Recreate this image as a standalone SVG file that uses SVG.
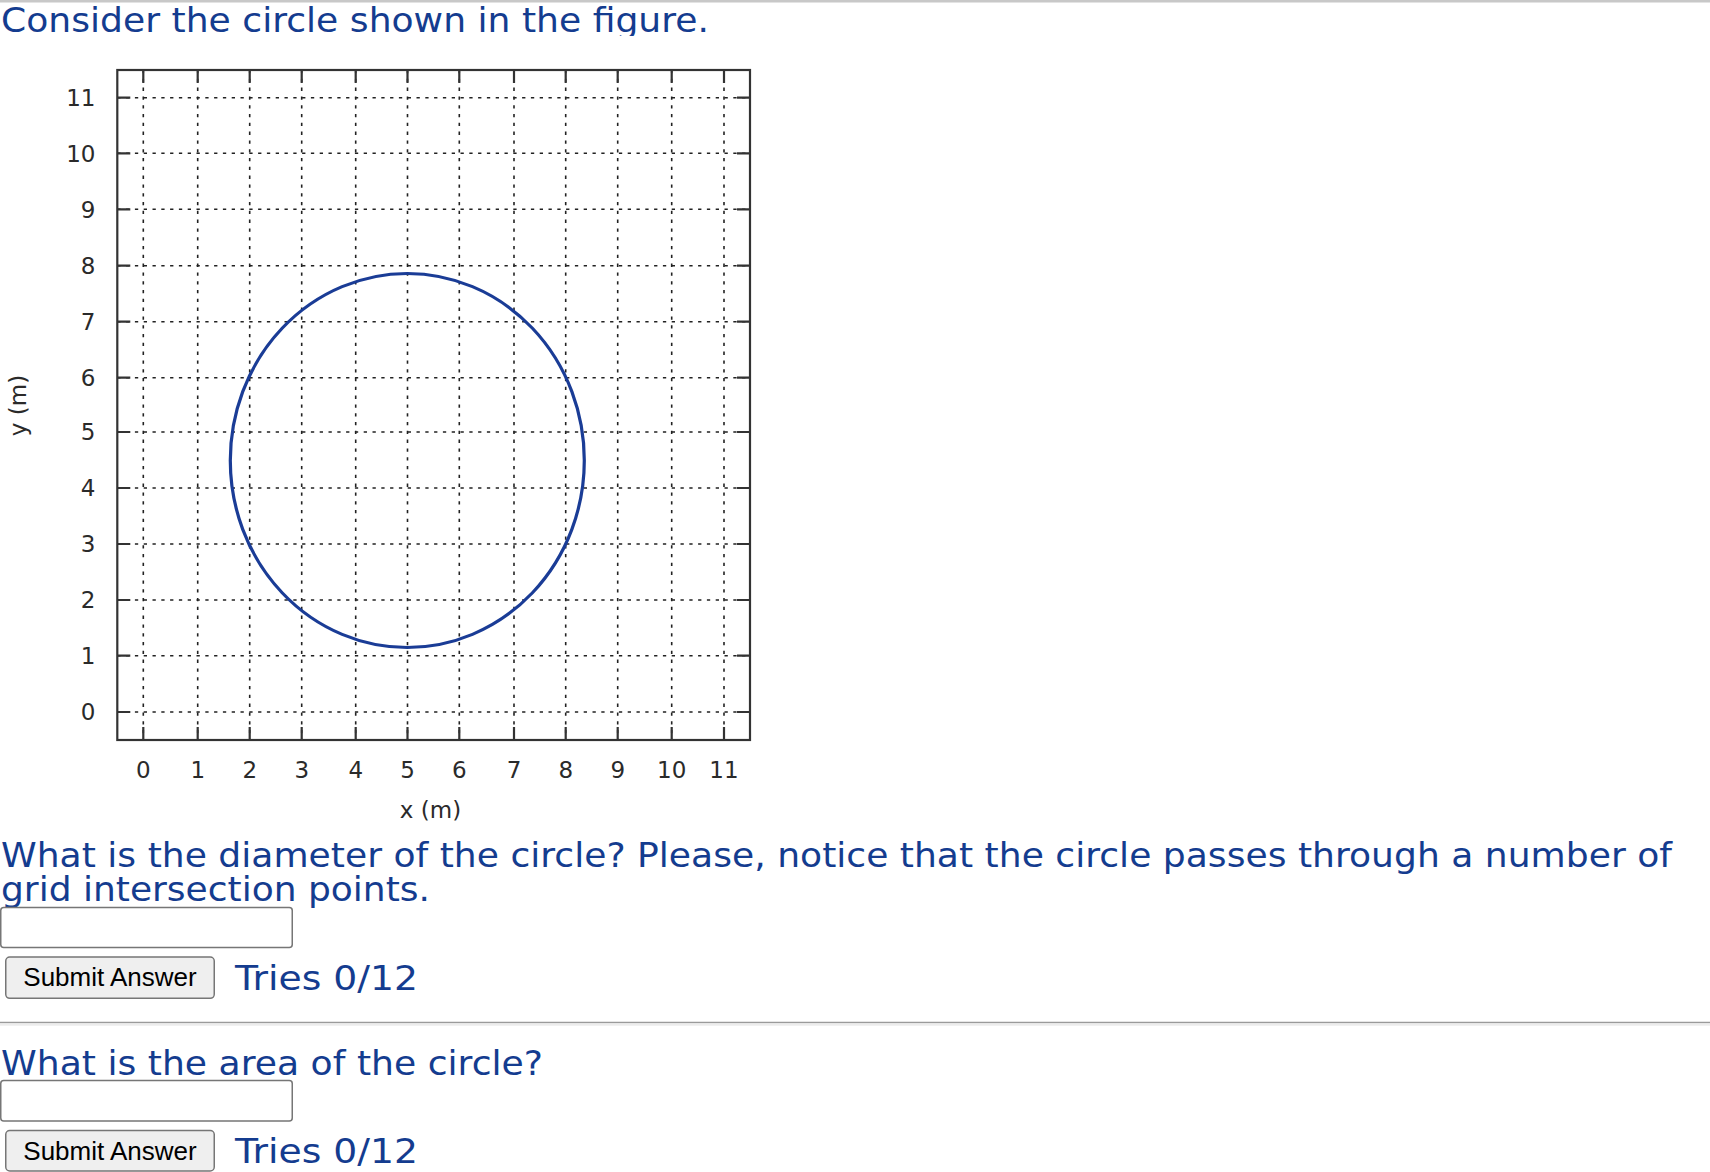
<svg xmlns="http://www.w3.org/2000/svg" width="1710" height="1172" viewBox="0 0 1710 1172">
<style>
.q{font-family:"DejaVu Sans","Verdana",sans-serif;font-size:33.5px;fill:#143c8f}
.tick{font-family:"DejaVu Sans",sans-serif;font-size:23px;fill:#2a2a2a}
.grid{stroke:#222;stroke-width:1.6;stroke-dasharray:3.3 5.5;fill:none}
.tk{stroke:#333;stroke-width:2.2;fill:none}
.btn{fill:#efefef;stroke:#767676;stroke-width:1.5}
.inp{fill:#fff;stroke:#767676;stroke-width:1.5}
.btxt{font-family:"Liberation Sans",Arial,sans-serif;font-size:26px;fill:#000}
</style>
<defs>
<clipPath id="titleclip"><rect x="0" y="0" width="1710" height="36"/></clipPath>
</defs>
<rect x="0" y="0" width="1710" height="2.5" fill="#c8c8c8"/>
<g id="title" clip-path="url(#titleclip)">
<text class="q" x="1" y="32" textLength="708" lengthAdjust="spacingAndGlyphs">Consider the circle shown in the figure.</text>
</g>
<g id="plot">
<g id="gridlines">
<path class="grid" d="M143.3 70V740M197.7 70V740M249.7 70V740M301.7 70V740M355.7 70V740M407.5 70V740M459.3 70V740M514 70V740M565.7 70V740M617.7 70V740M671.7 70V740M724 70V740"/>
<path class="grid" d="M117.3 712H750M117.3 655.7H750M117.3 600H750M117.3 544H750M117.3 488H750M117.3 432H750M117.3 377.7H750M117.3 321.7H750M117.3 265.7H750M117.3 209.3H750M117.3 153.3H750M117.3 97.7H750"/>
</g>
<g id="ticks">
<path class="tk" d="M117.3 712h13M117.3 655.7h13M117.3 600h13M117.3 544h13M117.3 488h13M117.3 432h13M117.3 377.7h13M117.3 321.7h13M117.3 265.7h13M117.3 209.3h13M117.3 153.3h13M117.3 97.7h13"/>
<path class="tk" d="M750 712h-13M750 655.7h-13M750 600h-13M750 544h-13M750 488h-13M750 432h-13M750 377.7h-13M750 321.7h-13M750 265.7h-13M750 209.3h-13M750 153.3h-13M750 97.7h-13"/>
<path class="tk" d="M143.3 70v13M197.7 70v13M249.7 70v13M301.7 70v13M355.7 70v13M407.5 70v13M459.3 70v13M514 70v13M565.7 70v13M617.7 70v13M671.7 70v13M724 70v13"/>
<path class="tk" d="M143.3 740v-13M197.7 740v-13M249.7 740v-13M301.7 740v-13M355.7 740v-13M407.5 740v-13M459.3 740v-13M514 740v-13M565.7 740v-13M617.7 740v-13M671.7 740v-13M724 740v-13"/>
</g>
<rect id="frame" x="117.3" y="70" width="632.7" height="670" fill="none" stroke="#333" stroke-width="2.2"/>
<ellipse id="circle" cx="407.3" cy="460.5" rx="177" ry="187" fill="none" stroke="#1a3c96" stroke-width="3.2"/>
<g id="ylabels" text-anchor="end">
<text class="tick" x="95.5" y="720.3">0</text>
<text class="tick" x="95.5" y="664">1</text>
<text class="tick" x="95.5" y="608.3">2</text>
<text class="tick" x="95.5" y="552.3">3</text>
<text class="tick" x="95.5" y="496.3">4</text>
<text class="tick" x="95.5" y="440.3">5</text>
<text class="tick" x="95.5" y="386">6</text>
<text class="tick" x="95.5" y="330">7</text>
<text class="tick" x="95.5" y="274">8</text>
<text class="tick" x="95.5" y="217.6">9</text>
<text class="tick" x="95.5" y="161.6">10</text>
<text class="tick" x="95.5" y="106">11</text>
</g>
<g id="xlabels" text-anchor="middle">
<text class="tick" x="143.3" y="777.5">0</text>
<text class="tick" x="197.7" y="777.5">1</text>
<text class="tick" x="249.7" y="777.5">2</text>
<text class="tick" x="301.7" y="777.5">3</text>
<text class="tick" x="355.7" y="777.5">4</text>
<text class="tick" x="407.5" y="777.5">5</text>
<text class="tick" x="459.3" y="777.5">6</text>
<text class="tick" x="514" y="777.5">7</text>
<text class="tick" x="565.7" y="777.5">8</text>
<text class="tick" x="617.7" y="777.5">9</text>
<text class="tick" x="671.7" y="777.5">10</text>
<text class="tick" x="724" y="777.5">11</text>
</g>
<text id="xaxis-title" class="tick" x="430.5" y="818" text-anchor="middle">x (m)</text>
<text id="yaxis-title" class="tick" x="0" y="0" text-anchor="middle" transform="translate(26,405.5) rotate(-90)">y (m)</text>
</g>
<g id="question1">
<text class="q" x="1" y="866.7" textLength="1671" lengthAdjust="spacingAndGlyphs">What is the diameter of the circle? Please, notice that the circle passes through a number of</text>
<text class="q" x="1" y="901" textLength="429" lengthAdjust="spacingAndGlyphs">grid intersection points.</text>
<rect class="inp" x="0.75" y="907.5" width="291.5" height="40" rx="3"/>
<rect class="btn" x="5.75" y="957" width="208.5" height="41.3" rx="4"/>
<text class="btxt" x="110" y="986" text-anchor="middle">Submit Answer</text>
<text class="q" x="235" y="990" textLength="183" lengthAdjust="spacingAndGlyphs">Tries 0/12</text>
</g>
<g id="separator">
<line x1="0" y1="1022.5" x2="1710" y2="1022.5" stroke="#9a9a9a" stroke-width="1.6"/>
<line x1="0" y1="1024.7" x2="1710" y2="1024.7" stroke="#ececec" stroke-width="2"/>
</g>
<g id="question2">
<text class="q" x="1" y="1075" textLength="542" lengthAdjust="spacingAndGlyphs">What is the area of the circle?</text>
<rect class="inp" x="0.75" y="1080.5" width="291.5" height="40.5" rx="3"/>
<rect class="btn" x="5.75" y="1130.5" width="208.5" height="40.5" rx="4"/>
<text class="btxt" x="110" y="1159.5" text-anchor="middle">Submit Answer</text>
<text class="q" x="235" y="1163" textLength="183" lengthAdjust="spacingAndGlyphs">Tries 0/12</text>
</g>
</svg>
